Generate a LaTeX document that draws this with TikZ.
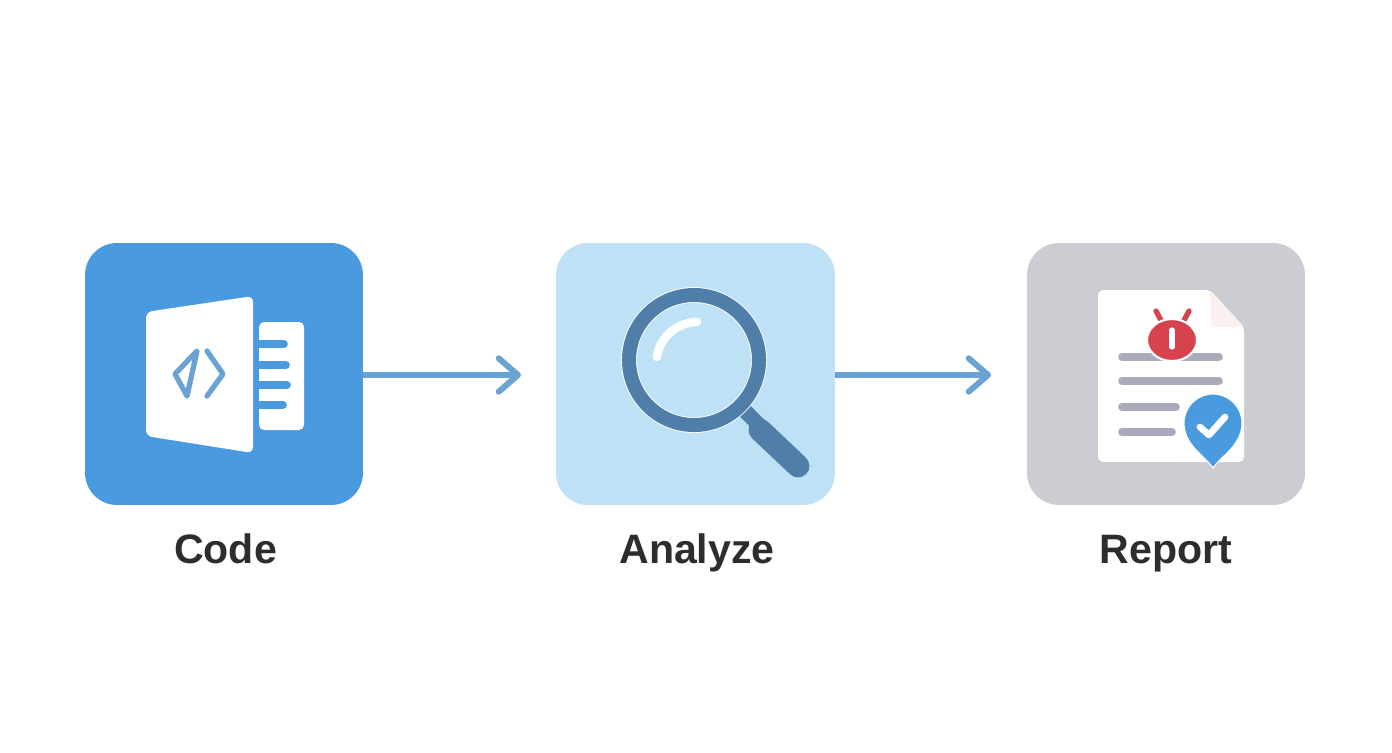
\documentclass[tikz,border=0pt]{standalone}
\usepackage{fontspec}
\setmainfont{Liberation Sans}
\usetikzlibrary{arrows.meta}
\usetikzlibrary{positioning}
\definecolor{mblue}{HTML}{4A9AE0}
\definecolor{mpale}{HTML}{BEE1F6}
\definecolor{mgrey}{HTML}{CCCDD3}
\definecolor{marrow}{HTML}{6AA3D3}
\definecolor{mglass}{HTML}{4F7FA8}
\definecolor{mline}{HTML}{A9ABBC}
\definecolor{mred}{HTML}{D6434F}
\definecolor{mfold}{HTML}{FBF0EE}
\definecolor{mtext}{HTML}{2D2D2D}
\tikzset{stagebox/.style = {rectangle, rounded corners = 0.64cm, minimum height = 5.24cm, inner sep = 0}}
\tikzset{stagelabel/.style = {font = \fontsize{23.4}{28}\selectfont\bfseries, text = mtext, text height = 0.62cm, text depth = 0.17cm, inner sep = 0}}
\tikzset{flowarrow/.style = {line width = 2.9pt, marrow, -{Straight Barb[length = 11pt, width = 19pt, line width = 3.4pt, round]}}}
\tikzset{roundline/.style = {line cap = round, line join = round}}
\begin{document}
\begin{tikzpicture}[x = 0.02cm, y = -0.02cm]
           \useasboundingbox (0, 0) rectangle (1392, 752);

           \node [stagebox, fill = mblue, minimum width = 5.56cm] (code) at (224, 374) {};
           \node [stagebox, fill = mpale, minimum width = 5.58cm] (analyze) at (695.5, 374) {};
           \node [stagebox, fill = mgrey, minimum width = 5.56cm] (report) at (1166, 374) {};

           \node [stagelabel, below = 0.54cm of code, xshift = 0.03cm] (codelabel) {Code};
           \node [stagelabel, below = 0.54cm of analyze, xshift = 0.03cm] (analyzelabel) {Analyze};
           \node [stagelabel, below = 0.54cm of report] (reportlabel) {Report};

           \coordinate (codeend) at (521, 375);
           \coordinate (analyzeend) at (991, 375);
           \draw [flowarrow] (code.east |- codeend) -- (codeend);
           \draw [flowarrow] (analyze.east |- analyzeend) -- (analyzeend);

           % code icon
           \fill [white, rounded corners = 0.12cm] (146, 312) -- (253, 296) -- (253, 453) -- (146, 436) -- cycle;
           \fill [white, rounded corners = 0.1cm] (259, 322) -- (304, 322) -- (304, 430) -- (259, 430) -- cycle;
           \draw [mblue, line width = 4.4pt, roundline] (259, 344) -- (284, 344);
           \draw [mblue, line width = 4.4pt, roundline] (259, 365) -- (286, 365);
           \draw [mblue, line width = 4.4pt, roundline] (259, 385) -- (287, 385);
           \draw [mblue, line width = 4.4pt, roundline] (259, 405) -- (283, 405);
           \draw [marrow, line width = 3pt, roundline] (197, 351) -- (175, 374) -- (187, 396) -- cycle;
           \draw [marrow, line width = 3pt, roundline] (207, 351) -- (223, 374) -- (207, 396);

           % magnifier icon
           \draw [mglass, line width = 8.5pt] (745, 411) -- (767, 433);
           \draw [mglass, line width = 13pt, line cap = round] (760, 430) -- (798, 466);
           \draw [white, line width = 9pt] (694, 360) circle [radius = 65];
           \draw [mglass, line width = 8pt] (694, 360) circle [radius = 65];
           \draw [white, line width = 4.8pt, roundline] (697, 322) .. controls (677, 322) and (659, 338) .. (657, 357);

           % report icon
           \fill [white, rounded corners = 0.1cm] (1098, 290) -- (1210, 290) -- (1244, 327) -- (1244, 462) -- (1098, 462) -- cycle;
           \fill [mfold, rounded corners = 0.06cm] (1210, 291) -- (1244, 327) -- (1211, 327) -- cycle;
           \draw [mline, line width = 4.4pt, roundline] (1122, 357) -- (1219, 357);
           \draw [mline, line width = 4.4pt, roundline] (1122, 381) -- (1219, 381);
           \draw [mline, line width = 4.4pt, roundline] (1122, 407) -- (1176, 407);
           \draw [mline, line width = 4.4pt, roundline] (1122, 432) -- (1172, 432);
           \draw [mred, line width = 3pt, roundline] (1156, 311) -- (1163, 324);
           \draw [mred, line width = 3pt, roundline] (1189, 311) -- (1182, 324);
           \draw [white, fill = mred, line width = 1.2pt] (1172, 340) ellipse [x radius = 25, y radius = 21];
           \draw [white, line width = 3pt, roundline] (1172, 330) -- (1172, 347);
           \draw [white, fill = mblue, line width = 0.6pt] (1213, 468) .. controls (1205, 456) and (1184, 445) .. (1184, 423) .. controls (1184, 407) and (1197, 394) .. (1213, 394) .. controls (1229, 394) and (1242, 407) .. (1242, 423) .. controls (1242, 445) and (1221, 456) .. cycle;
           \draw [white, line width = 3.8pt, roundline] (1200, 427) -- (1209, 435) -- (1225, 417);
         \end{tikzpicture}
\end{document}
